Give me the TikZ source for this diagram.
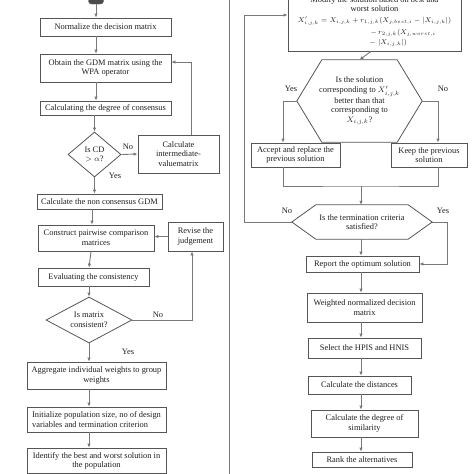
\documentclass[tikz,border=0pt]{standalone}
\usepackage{fontspec}
\setmainfont{Liberation Serif}
\usepackage{tikz}
\usetikzlibrary{arrows.meta}
\usetikzlibrary{positioning,calc}
\usetikzlibrary{shapes.geometric}
\definecolor{boxgray}{RGB}{85,85,85}
\definecolor{linegray}{RGB}{120,120,120}
\definecolor{textdark}{RGB}{30,30,30}
\newcommand{\hexline}[2]{%
  \draw[boxgray,line width=0.8pt] (#1.west) -- ($(#1.north west)+(#2,0)$)
    -- ($(#1.north east)-(#2,0)$) -- (#1.east) -- ($(#1.south east)-(#2,0)$)
    -- ($(#1.south west)+(#2,0)$) -- cycle;%
}
\newcommand{\eqsize}{\fontsize{7}{8}\selectfont}

\begin{document}
\begin{tikzpicture}[x=1pt,y=-1pt,
    txt/.style={font=\fontsize{8.4}{9.6}\selectfont,text=textdark},
    box/.style={txt,draw=boxgray,line width=0.8pt,align=center,inner sep=1pt},
    dia/.style={box,shape=diamond,inner sep=0pt},
    arr/.style={-{Latex[length=4pt,width=3.5pt]},linegray,line width=0.9pt},
    lin/.style={linegray,line width=0.9pt}]
    \useasboundingbox (0,0) rectangle (474,474);
    % left column
    \node[draw=boxgray,fill=black!70,rounded corners=3pt,minimum width=15pt,
          minimum height=14pt] (start) at (96,-3) {};
    \node[box,minimum width=131pt,minimum height=18pt] (norm) at (105.5,27)
      {Normalize the decision matrix};
    \node[box,minimum width=131pt,minimum height=28pt] (gdm) at (105.5,68)
      {Obtain the GDM matrix using the\\WPA operator};
    \node[box,minimum width=131pt,minimum height=14pt] (calc) at (105.5,108)
      {Calculating the degree of consensus};
    \node[dia,minimum width=53pt,minimum height=45pt,shape aspect=1.2] (cd)
      at (94.5,154.5) {Is CD\\$>\alpha$?};
    \node[box,minimum width=81pt,minimum height=38pt] (interm) at (178.5,154)
      {Calculate\\intermediate-\\valuematrix};
    \node[box,minimum width=125pt,minimum height=15pt] (noncons) at (99.5,201.5)
      {Calculate the non consensus GDM};
    \node[box,minimum width=116pt,minimum height=26pt] (construct) at (96,238)
      {Construct pairwise comparison\\matrices};
    \node[box,minimum width=55pt,minimum height=29pt] (revise) at (195.5,236.5)
      {Revise the\\judgement};
    \node[box,minimum width=111pt,minimum height=18pt] (evalc) at (93.5,277)
      {Evaluating the consistency};
    \node[dia,minimum width=86pt,minimum height=46pt,shape aspect=2] (cons)
      at (89,320) {Is matrix\\consistent?};
    \node[box,minimum width=139pt,minimum height=27pt] (agg) at (96.5,375.5)
      {Aggregate individual weights to group\\weights};
    \node[box,align=left,minimum width=139pt,minimum height=25pt] (init)
      at (96.5,419.5) {Initialize population size, no of design\\variables and termination criterion};
    \node[box,minimum width=139pt,minimum height=25.5pt] (ident) at (96.5,460.8)
      {Identify the best and worst solution in\\the population};
    % left labels
    \node[txt] (cdno) at (128,147) {No};
    \node[txt] (cdyes) at (115,176) {Yes};
    \node[txt] (consno) at (158,315) {No};
    \node[txt] (consyes) at (128,352) {Yes};
    % left connectors
    \draw[arr] (start.south) -- (norm.north -| start);
    \draw[arr] (norm.south -| start) -- (gdm.north -| start);
    \draw[arr] (gdm.south -| start) -- (calc.north -| start);
    \draw[arr] (calc.south -| cd) -- (cd.north);
    \draw[arr] (cd.east) -- (interm.west);
    \draw[arr] ([xshift=12.5pt]interm.north) |- ([yshift=6pt]gdm.east);
    \draw[arr] (cd.south) -- (noncons.north -| cd);
    \draw[arr] ([xshift=-7.5pt]noncons.south) -- ([xshift=-4pt]construct.north);
    \draw[arr] (revise.west) -- (revise.west -| construct.east);
    \draw[arr] ([xshift=-5pt]construct.south) -- (evalc.north -| cons);
    \draw[arr] (evalc.south -| cons) -- (cons.north);
    \draw[arr] (cons.east) -| ([xshift=-3.5pt]revise.south);
    \draw[arr] (cons.south) -- (agg.north -| cons);
    \draw[arr] (agg.south -| cons) -- (init.north -| cons);
    \draw[arr] (init.south -| cons) -- (ident.north -| cons);
    % long return line
    \coordinate (looptop) at (229,0);
    \coordinate (loopbot) at (229,474);
    \draw[lin] (loopbot) -- (looptop);
    % right column
    \node[box,minimum width=173pt,minimum height=59pt] (mod) at (374.5,21.5)
      {Modify the solution based on best and\\worst solution\\[1pt]
       {\eqsize$X'_{i,j,k}=X_{i,j,k}+r_{1,j,k}(X_{j,best,i}-|X_{i,j,k}|)$}\\[2pt]
       \makebox[130pt][l]{\eqsize\hspace{61pt}$-\,r_{2,j,k}(X_{j,worst,i}$}\\[1pt]
       \makebox[130pt][l]{\eqsize\hspace{60pt}$-\;|X_{i,j,k}|)$}};
    \node[txt,align=center,minimum width=125pt,minimum height=82pt,inner sep=0pt]
      (ans) at (359.5,101)
      {Is the solution\\corresponding to $X'_{i,j,k}$\\better than that\\corresponding to\\$X_{i,j,k}$?};
    \hexline{ans}{25}
    \node[box,minimum width=89pt,minimum height=24pt] (accept) at (295.5,155)
      {Accept and replace the\\previous solution};
    \node[box,minimum width=76pt,minimum height=24pt] (keep) at (429,155)
      {Keep the previous\\solution};
    \node[txt,align=center,minimum width=140pt,minimum height=34pt,inner sep=0pt]
      (term) at (362,222) {Is the termination criteria\\satisfied?};
    \hexline{term}{24}
    \node[box,minimum width=113pt,minimum height=16pt] (report) at (362.5,264)
      {Report the optimum solution};
    \node[box,minimum width=115pt,minimum height=29pt] (weighted) at (364.5,307.5)
      {Weighted normalized decision\\matrix};
    \node[box,minimum width=113pt,minimum height=20pt] (select) at (364.5,348)
      {Select the HPIS and HNIS};
    \node[box,minimum width=103pt,minimum height=18pt] (dist) at (359.5,385)
      {Calculate the distances};
    \node[box,minimum width=107pt,minimum height=27pt] (simil) at (364.5,423.5)
      {Calculate the degree of\\similarity};
    \node[box,minimum width=100pt,minimum height=15pt] (rank) at (362,459.5)
      {Rank the alternatives};
    % right labels
    \node[txt] (ansyes) at (291,89) {Yes};
    \node[txt] (ansno) at (443,89) {No};
    \node[txt] (termno) at (287,211) {No};
    \node[txt] (termyes) at (443,211) {Yes};
    % right connectors
    \coordinate (merge) at (361,186);
    \draw[arr] ([xshift=-3.5pt]mod.south) -- (ans.north);
    \draw[arr] (ans.west) -| ([xshift=-12.5pt]accept.north);
    \draw[arr] (ans.east) -| ([xshift=9pt]keep.north);
    \draw[lin] ([xshift=-12.5pt]accept.south) |- (merge) -| ([xshift=9pt]keep.south);
    \draw[arr] (merge) -- (term.north -| merge);
    \draw[arr] (term.south -| merge) -- (report.north -| merge);
    \draw[arr] (term.east) -- ++(15,0) |- (report.east);
    \draw[arr] (term.west) -- ++(-47,0) |- ($(mod.west)+(0,-6.5)$);
    \draw[arr] (report.south -| merge) -- (weighted.north -| merge);
    \draw[arr] (weighted.south -| merge) -- (select.north -| merge);
    \draw[arr] (select.south -| merge) -- (dist.north -| merge);
    \draw[arr] (dist.south -| merge) -- (simil.north -| merge);
    \draw[arr] (simil.south -| merge) -- (rank.north -| merge);
\end{tikzpicture}
\end{document}
